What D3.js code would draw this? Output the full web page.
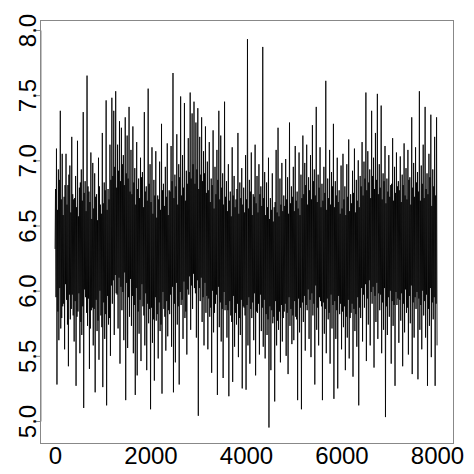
<!DOCTYPE html>
<html>
<head>
<meta charset="utf-8">
<style>
  body { margin: 0; background: #fff; }
  svg { display: block; }
  .axis text { font-family: "Liberation Sans", Arial, Helvetica, sans-serif; font-size: 24px; fill: #000; }
  .axis line, .axis path { stroke: #888; }
</style>
<script src="https://cdn.jsdelivr.net/npm/d3@7"></script>
</head>
<body>
<script>
// trace values, one every `step` iterations
var step = 10;
var traceValues = [
  6.32, 6.78, 5.95, 7.09, 5.28, 6.62, 5.84, 6.93, 5.62, 6.85, 6.02, 7.38, 5.71, 6.70, 5.79, 7.05, 5.88, 6.58, 5.90, 6.72,
  5.55, 6.81, 6.05, 7.05, 5.93, 6.66, 5.74, 6.81, 5.42, 6.89, 5.97, 6.96, 5.78, 6.60, 5.86, 7.18, 5.97, 6.74, 5.81, 6.70,
  5.61, 6.71, 5.92, 6.88, 5.27, 6.64, 5.80, 7.15, 5.84, 6.57, 5.98, 6.79, 5.52, 6.83, 5.76, 6.93, 5.66, 6.69, 5.88, 7.37,
  5.10, 6.75, 6.01, 6.84, 5.95, 6.61, 5.83, 7.65, 5.73, 6.80, 5.94, 6.76, 5.40, 6.68, 5.71, 7.06, 5.85, 6.55, 5.87, 6.98,
  5.58, 6.63, 5.86, 6.90, 5.22, 6.72, 5.93, 6.74, 5.69, 6.54, 5.77, 7.02, 5.47, 6.80, 6.00, 6.66, 5.81, 6.59, 5.72, 7.21,
  5.26, 6.67, 5.91, 6.83, 5.63, 6.77, 5.82, 7.46, 5.12, 6.62, 5.96, 6.78, 5.74, 6.70, 5.79, 7.12, 5.50, 6.85, 6.04, 7.48,
  5.90, 6.88, 6.08, 7.38, 5.66, 6.95, 6.12, 7.53, 5.98, 6.79, 5.97, 7.12, 5.71, 6.92, 6.10, 7.30, 5.44, 6.84, 6.03, 7.25,
  5.85, 6.97, 5.99, 7.04, 5.62, 6.81, 6.14, 7.33, 5.16, 6.90, 6.06, 7.19, 5.56, 6.86, 5.95, 7.41, 5.80, 6.76, 6.09, 7.08,
  5.73, 6.74, 5.96, 7.26, 5.52, 6.83, 5.89, 6.94, 5.20, 6.66, 6.02, 7.14, 5.35, 6.78, 5.84, 6.86, 5.67, 6.71, 5.93, 7.02,
  5.46, 6.87, 6.05, 6.91, 5.88, 6.64, 5.81, 7.37, 5.58, 6.76, 5.98, 6.80, 5.39, 6.69, 5.90, 7.55, 5.75, 6.82, 5.86, 6.97,
  5.09, 6.68, 5.87, 7.10, 5.60, 6.59, 5.78, 6.85, 5.31, 6.73, 5.95, 7.07, 5.77, 6.56, 5.82, 6.73, 5.48, 6.70, 5.91, 6.99,
  5.69, 6.62, 5.74, 7.28, 5.21, 6.77, 5.99, 6.82, 5.86, 6.65, 5.80, 6.95, 5.54, 6.72, 5.92, 7.13, 5.65, 6.58, 5.85, 6.77,
  5.82, 6.76, 5.97, 7.11, 5.57, 6.84, 6.03, 7.67, 5.22, 6.71, 5.90, 6.89, 5.45, 6.80, 6.06, 7.20, 5.74, 6.66, 5.88, 6.97,
  5.28, 6.87, 5.99, 7.49, 5.89, 6.73, 5.93, 7.04, 5.63, 6.79, 6.07, 7.44, 5.79, 6.69, 5.84, 6.92, 5.51, 6.82, 6.01, 7.17,
  5.97, 6.91, 6.11, 7.52, 5.70, 6.86, 6.04, 7.36, 5.86, 6.97, 6.13, 7.45, 6.02, 6.82, 5.98, 7.29, 5.64, 6.93, 6.08, 7.40,
  5.04, 6.78, 6.02, 7.18, 5.92, 6.89, 6.10, 7.33, 5.76, 6.84, 5.95, 7.07, 5.58, 6.90, 6.06, 7.26, 5.83, 6.75, 5.96, 6.99,
  5.55, 6.77, 5.94, 7.14, 5.80, 6.68, 5.87, 6.86, 5.37, 6.81, 6.00, 7.23, 5.68, 6.63, 5.83, 6.95, 5.90, 6.74, 5.97, 7.08,
  5.20, 6.85, 6.03, 7.38, 5.72, 6.70, 5.91, 7.19, 5.61, 6.79, 5.86, 6.90, 5.33, 6.66, 5.99, 7.45, 5.85, 6.72, 5.89, 6.84,
  5.64, 6.61, 5.85, 6.97, 5.19, 6.69, 5.92, 6.76, 5.81, 6.57, 5.76, 7.10, 5.30, 6.73, 5.96, 6.88, 5.57, 6.64, 5.83, 6.70,
  5.74, 6.78, 5.90, 7.21, 5.49, 6.59, 5.79, 6.83, 5.66, 6.71, 5.93, 6.94, 5.25, 6.66, 5.88, 6.79, 5.87, 6.60, 5.81, 7.04,
  5.24, 6.70, 5.89, 7.93, 5.58, 6.63, 5.95, 6.85, 5.44, 6.76, 5.86, 7.06, 5.79, 6.58, 5.91, 6.74, 5.62, 6.72, 5.98, 7.12,
  5.35, 6.67, 5.84, 6.88, 5.83, 6.60, 5.90, 6.97, 5.51, 6.74, 5.97, 6.80, 5.69, 6.65, 5.87, 7.87, 5.57, 6.71, 5.93, 6.91,
  5.48, 6.58, 5.82, 6.83, 5.66, 6.64, 5.78, 7.02, 4.95, 6.55, 5.88, 6.71, 5.39, 6.62, 5.85, 6.90, 5.75, 6.53, 5.80, 6.64,
  5.15, 6.68, 5.92, 7.08, 5.58, 6.60, 5.77, 7.25, 5.70, 6.57, 5.84, 6.86, 5.45, 6.66, 5.89, 6.98, 5.61, 6.61, 5.79, 6.73,
  5.84, 6.65, 5.90, 7.01, 5.50, 6.70, 5.83, 6.87, 5.36, 6.59, 5.95, 7.29, 5.73, 6.67, 5.86, 6.80, 5.59, 6.72, 5.81, 6.95,
  5.62, 6.61, 5.92, 7.11, 5.80, 6.69, 5.78, 6.76, 5.16, 6.63, 5.94, 7.06, 5.68, 6.58, 5.87, 6.89, 5.09, 6.71, 5.91, 7.19,
  5.76, 6.74, 5.96, 6.98, 5.54, 6.81, 5.89, 7.12, 5.85, 6.66, 6.01, 6.87, 5.63, 6.77, 5.93, 7.04, 5.49, 6.70, 5.98, 7.27,
  5.81, 6.84, 5.90, 6.93, 5.28, 6.73, 6.04, 7.41, 5.70, 6.68, 5.87, 6.89, 5.58, 6.79, 5.95, 7.10, 5.92, 6.64, 5.88, 6.82,
  5.16, 6.69, 5.91, 6.95, 5.67, 6.75, 5.86, 7.61, 5.52, 6.62, 5.94, 6.86, 5.78, 6.71, 5.83, 7.08, 5.44, 6.66, 5.97, 6.91,
  5.71, 6.80, 5.89, 7.28, 5.17, 6.64, 5.92, 6.84, 5.63, 6.73, 5.85, 7.02, 5.25, 6.68, 5.96, 6.77, 5.82, 6.59, 5.90, 6.96,
  5.55, 6.63, 5.84, 7.05, 5.72, 6.70, 5.88, 6.80, 5.39, 6.58, 5.80, 6.97, 5.64, 6.72, 5.93, 7.16, 5.48, 6.61, 5.79, 6.74,
  5.83, 6.67, 5.90, 6.92, 5.34, 6.75, 5.86, 7.09, 5.69, 6.60, 5.82, 6.85, 5.57, 6.69, 5.95, 7.00, 5.12, 6.64, 5.87, 6.88,
  5.79, 6.80, 6.02, 7.14, 5.61, 6.73, 5.97, 6.99, 5.87, 6.86, 6.05, 7.52, 5.46, 6.77, 5.94, 7.07, 5.74, 6.83, 6.08, 6.93,
  5.58, 6.71, 5.99, 7.38, 5.90, 6.88, 6.03, 7.02, 5.41, 6.78, 5.96, 7.21, 5.76, 6.85, 6.06, 7.51, 5.63, 6.74, 5.98, 6.97,
  5.85, 6.79, 5.97, 7.42, 5.52, 6.70, 5.91, 6.90, 5.70, 6.84, 6.02, 7.11, 5.03, 6.67, 5.88, 6.86, 5.66, 6.76, 5.95, 7.04,
  5.80, 6.72, 6.00, 6.81, 5.44, 6.82, 5.92, 7.17, 5.73, 6.69, 5.89, 6.95, 5.27, 6.75, 5.99, 7.06, 5.89, 6.80, 5.94, 6.84,
  5.60, 6.77, 5.93, 7.03, 5.77, 6.68, 5.98, 6.89, 5.42, 6.81, 5.90, 7.13, 5.68, 6.73, 6.01, 6.94, 5.83, 6.70, 5.87, 7.08,
  5.51, 6.85, 5.96, 6.87, 5.75, 6.66, 6.04, 7.33, 5.36, 6.79, 5.91, 6.98, 5.64, 6.72, 5.95, 7.10, 5.86, 6.83, 5.99, 6.91,
  5.32, 6.76, 5.94, 7.53, 5.70, 6.69, 5.89, 6.96, 5.55, 6.82, 6.00, 7.12, 5.81, 6.71, 5.92, 7.41, 5.64, 6.78, 5.97, 6.90,
  5.27, 6.74, 5.86, 7.05, 5.73, 6.87, 6.02, 7.35, 5.49, 6.65, 5.91, 6.93, 5.78, 6.80, 5.95, 7.18, 5.27, 6.73, 5.90, 7.33,
  5.58
];
var xTicks = [0, 2000, 4000, 6000, 8000];
var yTicks = [5.0, 5.5, 6.0, 6.5, 7.0, 7.5, 8.0];

var w = 474, h = 474;
var svg = d3.select("body").append("svg")
    .attr("width", w)
    .attr("height", h);

var x = d3.scaleLinear().domain([0, 8000]).range([55, 437]);
var y = d3.scaleLinear().domain([5, 8]).range([421, 30]);

// trace line
var line = d3.line()
    .x(function (d, i) { return x(1 + i * step); })
    .y(function (d) { return y(d); });

svg.append("path")
    .datum(traceValues)
    .attr("d", line)
    .attr("fill", "none")
    .attr("stroke", "#000")
    .attr("stroke-width", 0.85);

// plot frame
svg.append("rect")
    .attr("x", 40.5)
    .attr("y", 20.5)
    .attr("width", 413)
    .attr("height", 423)
    .attr("fill", "none")
    .attr("stroke", "#888")
    .attr("stroke-width", 1);

// x axis, labels only
var gx = svg.append("g")
    .attr("class", "axis")
    .attr("transform", "translate(0,443)")
    .call(d3.axisBottom(x).tickValues(xTicks).tickSize(0).tickPadding(4).tickFormat(d3.format("d")));
gx.select(".domain").remove();

// y axis with rotated labels
var gy = svg.append("g")
    .attr("class", "axis")
    .attr("transform", "translate(40.5,0)")
    .call(d3.axisLeft(y).tickValues(yTicks).tickSize(7).tickSizeOuter(0).tickFormat(d3.format(".1f")));
gy.selectAll("text")
    .attr("x", 0)
    .attr("dy", 0)
    .attr("text-anchor", "middle")
    .attr("transform", "translate(-4.5,0) rotate(-90)");
</script>
</body>
</html>
